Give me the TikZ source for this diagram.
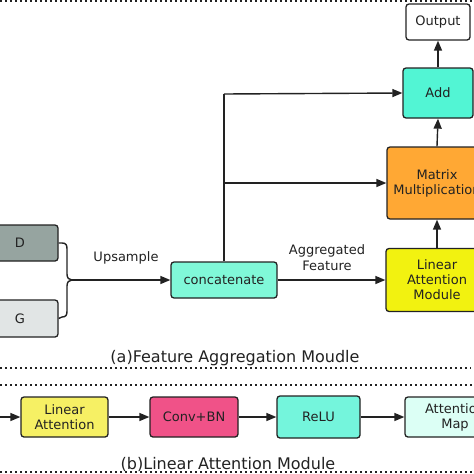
\documentclass[tikz,border=0pt]{standalone}
\usepackage{fontspec}
\setmainfont{DejaVu Sans}
\usetikzlibrary{arrows.meta}
\definecolor{cD}{RGB}{150,164,160}
\definecolor{cG}{RGB}{225,229,229}
\definecolor{cCat}{RGB}{128,248,216}
\definecolor{cAdd}{RGB}{82,245,212}
\definecolor{cMM}{RGB}{255,168,52}
\definecolor{cLAM}{RGB}{242,242,16}
\definecolor{cLA}{RGB}{246,240,100}
\definecolor{cConv}{RGB}{240,82,136}
\definecolor{cRelu}{RGB}{116,245,220}
\definecolor{cAM}{RGB}{220,255,245}
\definecolor{ink}{RGB}{34,34,34}
\tikzset{
  blk/.style={draw=ink, line width=1.3pt, rounded corners=3pt, align=center,
    inner sep=0pt, font=\fontsize{13}{15}\selectfont, text=ink},
  arr/.style={draw=ink, line width=1.4pt, -{Triangle[length=10pt,width=8pt]}},
  ln/.style={draw=ink, line width=1.4pt},
  lbl/.style={font=\fontsize{13}{15.5}\selectfont, text=ink, align=center, inner sep=0pt},
  captxt/.style={font=\fontsize{16}{18}\selectfont, text=ink, inner sep=0pt},
  dotline/.style={draw=ink, line width=1.6pt, dash pattern=on 1.8pt off 3.2pt}
}
\begin{document}
\begin{tikzpicture}[x=1pt,y=-1pt]
\useasboundingbox (0,0) rectangle (474,474);
\clip (0,0) rectangle (474,474);
\fill[white] (0,0) rectangle (474,474);
% dotted separators
\draw[dotline] (0,1) -- (474,1);
\draw[dotline] (0,368) -- (471,368);
\draw[dotline] (0,385) -- (474,385);
\draw[dotline] (0,472) -- (474,472);
% (a) nodes
\node[blk, fill=white, minimum width=64pt, minimum height=36pt] (out) at (438,22) {Output};
\node[blk, fill=cAdd, minimum width=70pt, minimum height=50pt] (add) at (438,93) {Add};
\node[blk, fill=cMM, minimum width=100pt, minimum height=72pt] (mm) at (437,183) {Matrix\\Multiplication};
\node[blk, fill=cLAM, minimum width=102pt, minimum height=63pt] (lam) at (437,280) {Linear\\Attention\\Module};
\node[blk, fill=cCat, minimum width=106pt, minimum height=36pt] (cat) at (224,280) {concatenate};
\node[blk, fill=cD, minimum width=76pt, minimum height=36pt] (d) at (20,243) {D};
\node[blk, fill=cG, minimum width=76pt, minimum height=37pt] (g) at (20,318.5) {G};
% brace
\coordinate (tip) at (72,280);
\draw[ln] (d.east) -- (62,243) .. controls (66,243) and (67,245) .. (67,249)
  -- (67,274) .. controls (67,278) and (69,280) .. (tip);
\draw[ln] (g.east) -- (62,317) .. controls (66,317) and (67,315) .. (67,311)
  -- (67,286) .. controls (67,282) and (69,280) .. (tip);
\draw[arr] (tip) -- (cat.west);
\node[lbl] (ups) at (126,258) {Upsample};
\draw[arr] (cat.east) -- (lam.west);
\node[lbl] (agg) at (327,257.5) {Aggregated\\Feature};
\draw[arr] (lam.north) -- (mm.south);
\draw[arr] (mm.north) -- (add.south);
\draw[arr] (add.north) -- (out.south);
\coordinate (top) at (224,94);
\draw[ln] (cat.north) -- (top);
\draw[arr] (top) -- (add.west);
\coordinate (br) at (224,183);
\draw[arr] (br) -- (mm.west);
\node[captxt] (capa) at (235,358) {(a)Feature Aggregation Moudle};
% (b) nodes
\node[blk, fill=cLA, minimum width=87pt, minimum height=40pt] (la) at (64.5,417) {Linear\\Attention};
\node[blk, fill=cConv, minimum width=88pt, minimum height=40pt] (conv) at (194,417) {Conv+BN};
\node[blk, fill=cRelu, minimum width=83pt, minimum height=42pt] (relu) at (318.5,417) {ReLU};
\node[blk, fill=cAM, minimum width=100pt, minimum height=40pt] (am) at (455,417) {Attention\\Map};
\coordinate (in) at (-2,417);
\draw[arr] (in) -- (la.west);
\draw[arr] (la.east) -- (conv.west);
\draw[arr] (conv.east) -- (relu.west);
\draw[arr] (relu.east) -- (am.west);
\node[captxt] (capb) at (228,464) {(b)Linear Attention Module};
\end{tikzpicture}
\end{document}
